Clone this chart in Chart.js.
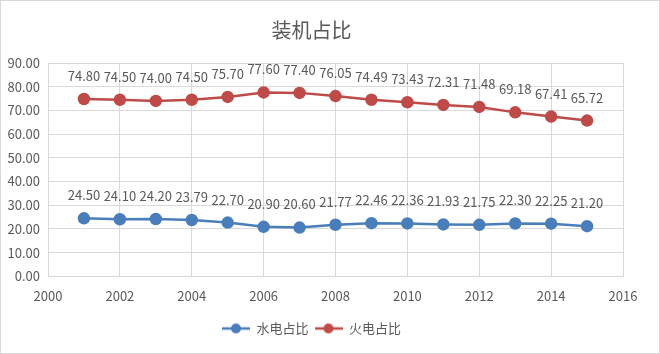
<!DOCTYPE html>
<html lang="zh">
<head>
    <meta charset="UTF-8">
    <title>装机占比</title>
    <script src="https://cdn.jsdelivr.net/npm/chart.js"></script>
    <style>
        body { margin: 0; background: #fff; }
        #wrap { width: 660px; height: 354px; }
    </style>
</head>
<body>
    <div id="wrap"><canvas id="chart"></canvas></div>
    <script>
        const years = [2001, 2002, 2003, 2004, 2005, 2006, 2007, 2008, 2009, 2010, 2011, 2012, 2013, 2014, 2015];
        const hydro = [24.50, 24.10, 24.20, 23.79, 22.70, 20.90, 20.60, 21.77, 22.46, 22.36, 21.93, 21.75, 22.30, 22.25, 21.20];
        const thermal = [74.80, 74.50, 74.00, 74.50, 75.70, 77.60, 77.40, 76.05, 74.49, 73.43, 72.31, 71.48, 69.18, 67.41, 65.72];
        const seriesNames = ["水电占比", "火电占比"];
        const colors = ['#4a7ebb', '#be4b48'];

        const font = "'Noto Sans CJK SC', 'Noto Sans', sans-serif";
        const textColor = '#595959';
        const gridColor = '#d9d9d9';

        // little line-with-dot marker for the legend
        function legendMarker(color) {
            const c = document.createElement('canvas');
            c.width = 28; c.height = 12;
            const g = c.getContext('2d');
            g.strokeStyle = color;
            g.lineWidth = 2.5;
            g.beginPath(); g.moveTo(0, 6); g.lineTo(28, 6); g.stroke();
            g.fillStyle = color;
            g.beginPath(); g.arc(14, 6, 5, 0, Math.PI * 2); g.fill();
            return c;
        }

        // white background + thin frame
        const framePlugin = {
            id: 'frame',
            beforeDraw(chart) {
                const ctx = chart.ctx;
                ctx.save();
                ctx.fillStyle = '#fff';
                ctx.fillRect(0, 0, chart.width, chart.height);
                ctx.strokeStyle = '#d9d9d9';
                ctx.lineWidth = 1;
                ctx.strokeRect(0.5, 0.5, chart.width - 1, chart.height - 1);
                ctx.restore();
            }
        };

        // value labels above each point
        const labelPlugin = {
            id: 'pointLabels',
            afterDatasetsDraw(chart) {
                const ctx = chart.ctx;
                ctx.save();
                ctx.font = '13px ' + font;
                ctx.fillStyle = textColor;
                ctx.textAlign = 'center';
                ctx.textBaseline = 'middle';
                chart.data.datasets.forEach((ds, i) => {
                    chart.getDatasetMeta(i).data.forEach((pt, j) => {
                        ctx.fillText(ds.data[j].y.toFixed(2), pt.x, pt.y - 23);
                    });
                });
                ctx.restore();
            }
        };

        const toPoints = arr => arr.map((v, i) => ({ x: years[i], y: v }));

        new Chart(document.getElementById('chart'), {
            type: 'line',
            data: {
                datasets: [
                    {
                        label: seriesNames[0],
                        data: toPoints(hydro),
                        borderColor: colors[0],
                        backgroundColor: colors[0],
                        borderWidth: 2.5,
                        pointRadius: 5,
                        pointHoverRadius: 5,
                        pointStyle: 'circle'
                    },
                    {
                        label: seriesNames[1],
                        data: toPoints(thermal),
                        borderColor: colors[1],
                        backgroundColor: colors[1],
                        borderWidth: 2.5,
                        pointRadius: 5,
                        pointHoverRadius: 5,
                        pointStyle: 'circle'
                    }
                ]
            },
            options: {
                responsive: true,
                maintainAspectRatio: false,
                animation: false,
                layout: { padding: { left: 0, right: 37, top: 18, bottom: 9 } },
                plugins: {
                    title: {
                        display: true,
                        text: '装机占比',
                        color: textColor,
                        font: { family: font, size: 20, weight: 'normal' },
                        padding: { top: 0, bottom: 21 }
                    },
                    legend: {
                        position: 'bottom',
                        labels: {
                            color: textColor,
                            font: { family: font, size: 13 },
                            padding: 6,
                            usePointStyle: true,
                            pointStyleWidth: 28,
                            boxHeight: 12,
                            generateLabels: chart => chart.data.datasets.map((ds, i) => ({
                                text: ds.label,
                                pointStyle: legendMarker(colors[i]),
                                fontColor: textColor,
                                datasetIndex: i,
                                hidden: false,
                                lineWidth: 0,
                                strokeStyle: 'transparent',
                                fillStyle: colors[i]
                            }))
                        }
                    },
                    tooltip: { enabled: false }
                },
                scales: {
                    x: {
                        type: 'linear',
                        min: 2000,
                        max: 2016,
                        ticks: { stepSize: 2, padding: 12, color: textColor, font: { family: font, size: 13 }, callback: v => String(v) },
                        grid: { color: gridColor, drawTicks: false },
                        border: { color: gridColor }
                    },
                    y: {
                        min: 0,
                        max: 90,
                        afterFit: s => { s.width = 48; },
                        ticks: { stepSize: 10, padding: 8, color: textColor, font: { family: font, size: 13 }, callback: v => v.toFixed(2) },
                        grid: { color: gridColor, drawTicks: false },
                        border: { display: false }
                    }
                }
            },
            plugins: [framePlugin, labelPlugin]
        });
    </script>
</body>
</html>
